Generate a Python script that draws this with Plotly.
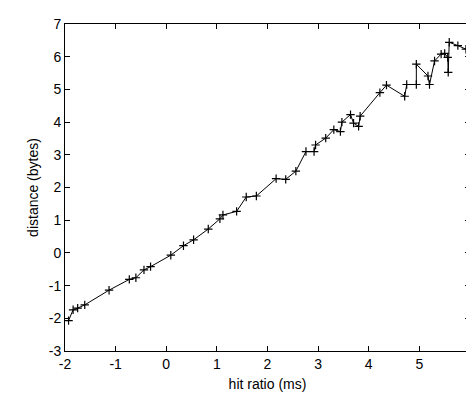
import plotly.graph_objects as go

hit_ratio = [-1.93,-1.84,-1.75,-1.61,-1.13,-0.73,-0.60,-0.44,-0.31,0.09,0.34,0.54,0.83,1.06,1.12,1.39,1.58,1.78,2.17,2.36,2.56,
             2.76,2.92,2.95,3.15,3.31,3.44,3.47,3.64,3.70,3.80,3.83,4.22,4.35,4.71,4.75,4.94,4.94,5.17,5.20,5.30,5.43,5.50,5.56,5.57,5.59,5.76,5.92]
distance = [-2.07,-1.74,-1.69,-1.59,-1.14,-0.81,-0.76,-0.52,-0.42,-0.07,0.22,0.40,0.73,1.04,1.16,1.27,1.71,1.74,2.27,2.25,2.50,
            3.10,3.10,3.30,3.51,3.77,3.71,4.00,4.23,3.97,3.87,4.18,4.90,5.13,4.79,5.15,5.15,5.77,5.41,5.15,5.87,6.08,6.10,5.98,5.52,6.44,6.34,6.23]
x_ticks = [-2, -1, 0, 1, 2, 3, 4, 5, 6]
y_ticks = [-3, -2, -1, 0, 1, 2, 3, 4, 5, 6, 7]

fig = go.Figure(go.Scatter(x=hit_ratio, y=distance, mode="lines+markers", cliponaxis=False,
    line=dict(color="black", width=1),
    marker=dict(symbol="cross-thin", size=6, line=dict(color="black", width=1.2))))
ax = dict(showgrid=False, zeroline=False, mirror="ticks", showline=True, linecolor="black", linewidth=1,
          ticks="inside", ticklen=5, tickcolor="black", tickfont=dict(size=14, color="black"))
fig.update_xaxes(range=[-2.0001, 6.0001], tickvals=x_ticks, ticktext=[str(v) for v in x_ticks],
                 title=dict(text="hit ratio (ms)", font=dict(size=14, color="black"), standoff=8), **ax)
fig.update_yaxes(range=[-3.0001, 7.0001], tickvals=y_ticks, ticktext=[str(v) for v in y_ticks],
                 title=dict(text="distance (bytes)", font=dict(size=14, color="black"), standoff=6), **ax)
fig.update_layout(width=474, height=401, margin=dict(l=57, r=8, t=10, b=58), showlegend=False,
                  plot_bgcolor="white", paper_bgcolor="white", font=dict(family="Liberation Sans, Arial"))
fig.write_html("out.html")
